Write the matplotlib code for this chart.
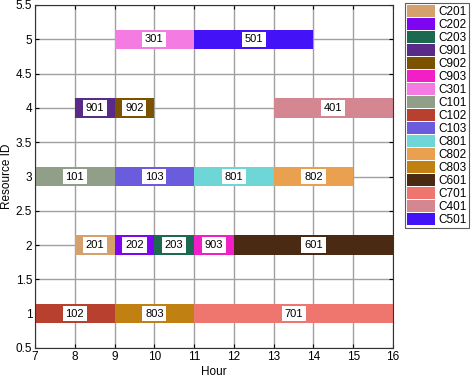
import matplotlib
matplotlib.use("Agg")
import matplotlib.pyplot as plt
from matplotlib.patches import Patch

plt.rcParams['font.family'] = ['Liberation Sans', 'DejaVu Sans']

# Data
jobs = ["201", "202", "203", "901", "902", "903", "301", "101", "102",
        "103", "801", "802", "803", "601", "701", "401", "501"]
resource = [2, 2, 2, 4, 4, 2, 5, 3, 1, 3, 3, 3, 1, 2, 1, 4, 5]
start = [8, 9, 10, 8, 9, 11, 9, 7, 7, 9, 11, 13, 9, 12, 11, 13, 11]
end = [9, 10, 11, 9, 10, 12, 11, 9, 9, 11, 13, 15, 11, 16, 16, 16, 14]
colors = ["#D4A16C", "#7E05F2", "#1B6A50", "#5A2A88", "#7A5200", "#F01FC8",
          "#F47BE2", "#919E88", "#B8402F", "#6B5BDD", "#6FD6D8", "#E9A04F",
          "#C08012", "#4A2A13", "#EF766F", "#D48790", "#4412F7"]
legend_labels = ["C" + j for j in jobs]
x_ticks = list(range(7, 17))
y_ticks = [0.5, 1, 1.5, 2, 2.5, 3, 3.5, 4, 4.5, 5, 5.5]

fig = plt.figure(figsize=(4.74, 3.8), dpi=100)
ax = fig.add_axes([35 / 474, 32 / 380, 358 / 474, 343 / 380])

bar_h = 0.28
for j, r, s, e, c in zip(jobs, resource, start, end, colors):
    ax.barh(r, e - s, left=s, height=bar_h, color=c, edgecolor="none", zorder=2)
    ax.text((s + e) / 2, r, j, ha="center", va="center", fontsize=8,
            bbox=dict(boxstyle="square,pad=0.25", fc="white", ec="none"), zorder=3)

ax.set_xlim(7, 16)
ax.set_ylim(0.5, 5.5)
ax.set_xticks(x_ticks)
ax.set_yticks(y_ticks)
ax.set_yticklabels([("%g" % v) for v in y_ticks])
ax.grid(True, color="#a0a0a0", linewidth=1.0, zorder=0)
ax.set_axisbelow(True)
ax.tick_params(direction="in", top=True, right=True, labelsize=8.5, length=3, pad=2)
for sp in ax.spines.values():
    sp.set_linewidth(0.8)
    sp.set_color("#333333")
ax.set_xlabel("Hour", fontsize=8.5, labelpad=2)
ax.set_ylabel("Resource ID", fontsize=8.5, labelpad=2)

handles = [Patch(facecolor=c, edgecolor="none") for c in colors]
leg = fig.legend(handles, legend_labels, loc="upper left",
                 bbox_to_anchor=(405 / 474, 1 - 3 / 380), fontsize=8.5,
                 labelspacing=0.0, handleheight=1.19, handlelength=2.4,
                 handletextpad=0.3, borderpad=0.15, borderaxespad=0,
                 frameon=True, fancybox=False, edgecolor="#333333")
leg.get_frame().set_linewidth(0.8)

fig.savefig("out.png", dpi=100)
